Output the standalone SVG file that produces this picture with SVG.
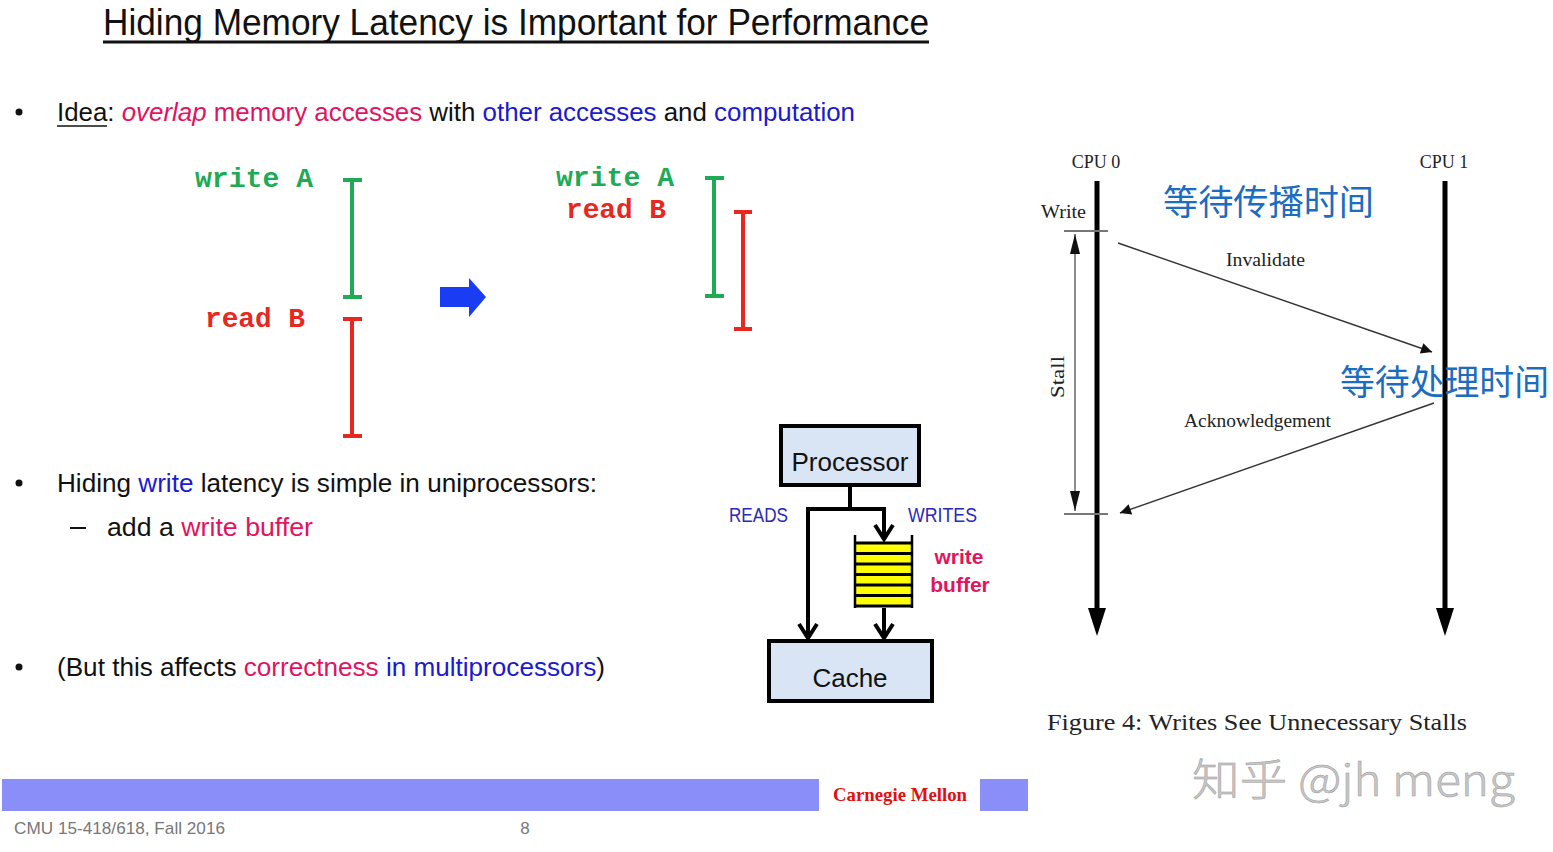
<svg xmlns="http://www.w3.org/2000/svg" width="1553" height="852" viewBox="0 0 1553 852">
<style>
.sans{font-family:"Liberation Sans","Noto Sans",sans-serif;}
.body{font-family:"Liberation Sans","Noto Sans",sans-serif;font-size:26px;fill:#111;}
.pink{fill:#e3135e;}
.blue{fill:#1a1ad0;}
.mono{font-family:"Liberation Mono","DejaVu Sans Mono",monospace;font-size:28px;font-weight:bold;}
.green{fill:#1faa55;}
.red{fill:#e8281e;}
.gbar{stroke:#1faa55;stroke-width:4;fill:none;}
.rbar{stroke:#e8281e;stroke-width:4;fill:none;}
.box{fill:#d9e4f4;stroke:#000;stroke-width:4;}
.wire{stroke:#000;stroke-width:4;fill:none;}
.serif{font-family:"Liberation Serif","DejaVu Serif",serif;fill:#222;}
.cjk{font-family:"Noto Sans CJK SC","Noto Sans",sans-serif;font-size:35px;fill:#1c6cc0;}
.thin{stroke:#333;stroke-width:1.4;fill:none;}
.tick{stroke:#777;stroke-width:2;fill:none;}
.life{stroke:#000;stroke-width:5;fill:none;}
</style>
<defs>
<marker id="tri" viewBox="0 0 10 10" refX="10" refY="5" markerWidth="20" markerHeight="11" markerUnits="userSpaceOnUse" orient="auto"><path d="M0,0 L10,5 L0,10 z" fill="#111"/></marker>
</defs>
<rect width="1553" height="852" fill="#fff"/>

<g id="title">
<text class="sans" x="103" y="35" font-size="36" fill="#111" textLength="826" lengthAdjust="spacingAndGlyphs">Hiding Memory Latency is Important for Performance</text>
<line x1="103" y1="42" x2="929" y2="42" stroke="#111" stroke-width="3"/>
</g>

<g id="bullet1">
<circle cx="19" cy="112" r="3.5" fill="#111"/>
<text class="body" x="57" y="121" textLength="798" lengthAdjust="spacingAndGlyphs">Idea: <tspan class="pink" font-style="italic">overlap</tspan><tspan class="pink"> memory accesses</tspan> with <tspan class="blue">other accesses</tspan> and <tspan class="blue">computation</tspan></text>
<line x1="57" y1="126" x2="107" y2="126" stroke="#111" stroke-width="1.5"/>
</g>

<g id="serial">
<text class="mono green" x="195" y="187" textLength="118" lengthAdjust="spacingAndGlyphs">write A</text>
<path class="gbar" d="M343,180 H362 M352,180 V297 M343,297 H362"/>
<text class="mono red" x="205" y="327" textLength="100" lengthAdjust="spacingAndGlyphs">read B</text>
<path class="rbar" d="M343,319 H362 M352,319 V436 M343,436 H362"/>
</g>

<g id="bigarrow">
<polygon points="440,287 469,287 469,278 486,297 469,317 469,307 440,307" fill="#1a3cf2"/>
</g>

<g id="overlapped">
<text class="mono green" x="556" y="186" textLength="118" lengthAdjust="spacingAndGlyphs">write A</text>
<text class="mono red" x="566" y="218" textLength="100" lengthAdjust="spacingAndGlyphs">read B</text>
<path class="gbar" d="M705,178 H724 M714,178 V296 M705,296 H724"/>
<path class="rbar" d="M734,212 H752 M743,212 V329 M734,329 H752"/>
</g>

<g id="bullet2">
<circle cx="19" cy="483" r="3.5" fill="#111"/>
<text class="body" x="57" y="492" textLength="540" lengthAdjust="spacingAndGlyphs">Hiding <tspan class="blue">write</tspan> latency is simple in uniprocessors:</text>
<line x1="70" y1="528" x2="86" y2="528" stroke="#111" stroke-width="2"/>
<text class="body" x="107" y="536" textLength="206" lengthAdjust="spacingAndGlyphs">add a <tspan class="pink">write buffer</tspan></text>
</g>

<g id="bullet3">
<circle cx="19" cy="667" r="3.5" fill="#111"/>
<text class="body" x="57" y="676" textLength="548" lengthAdjust="spacingAndGlyphs">(But this affects <tspan class="pink">correctness</tspan> <tspan class="blue">in multiprocessors</tspan>)</text>
</g>

<g id="processor">
<rect class="box" x="781" y="426" width="138" height="59"/>
<text class="sans" x="850" y="471" font-size="26" fill="#111" text-anchor="middle">Processor</text>
</g>

<g id="cache">
<rect class="box" x="769" y="641" width="163" height="60"/>
<text class="sans" x="850" y="687" font-size="26" fill="#111" text-anchor="middle">Cache</text>
</g>

<g id="writebuffer">
<rect x="855" y="542" width="57" height="65" fill="#ffff00"/>
<path d="M855,535 V608 M912,535 V608" stroke="#000" stroke-width="2.5"/>
<path d="M855,543 H912 M855,553.5 H912 M855,564 H912 M855,574.5 H912 M855,585 H912 M855,595.5 H912 M855,606 H912" stroke="#000" stroke-width="3"/>
<text class="sans" x="959" y="564" font-size="21" font-weight="bold" fill="#e3135e" text-anchor="middle">write</text>
<text class="sans" x="960" y="592" font-size="21" font-weight="bold" fill="#e3135e" text-anchor="middle">buffer</text>
</g>

<g id="labels">
<text class="sans" x="729" y="522" font-size="20" fill="#2a2ab8" textLength="59" lengthAdjust="spacingAndGlyphs">READS</text>
<text class="sans" x="908" y="522" font-size="20" fill="#2a2ab8" textLength="69" lengthAdjust="spacingAndGlyphs">WRITES</text>
</g>

<g id="connectors">
<path class="wire" d="M850,485 V509 M806,509 H886 M808,509 V637 M884,509 V537 M884,608 V637"/>
<path class="wire" d="M799,624 L808,638 L817,624"/>
<path class="wire" d="M875,525 L884,539 L893,525"/>
<path class="wire" d="M875,624 L884,638 L893,624"/>

<line class="life" x1="1097" y1="181" x2="1097" y2="612"/>
<polygon points="1088,608 1106,608 1097,636" fill="#000"/>
<line class="life" x1="1445" y1="181" x2="1445" y2="612"/>
<polygon points="1436,608 1454,608 1445,636" fill="#000"/>

<line class="tick" x1="1064" y1="231" x2="1108" y2="231"/>
<line class="tick" x1="1064" y1="514" x2="1108" y2="514"/>
<line x1="1075" y1="234" x2="1075" y2="511" stroke="#666" stroke-width="1.5"/>
<polygon points="1075,234 1070,254 1080,254" fill="#111"/>
<polygon points="1075,511 1070,491 1080,491" fill="#111"/>

<line class="thin" x1="1118" y1="243" x2="1432" y2="352" marker-end="url(#tri)"/>
<line class="thin" x1="1434" y1="403" x2="1120" y2="513" marker-end="url(#tri)"/>
</g>

<g id="timeline-text">
<text class="serif" x="1096" y="168" font-size="18" text-anchor="middle">CPU 0</text>
<text class="serif" x="1444" y="168" font-size="18" text-anchor="middle">CPU 1</text>
<text class="serif" x="1041" y="218" font-size="18" textLength="45" lengthAdjust="spacingAndGlyphs">Write</text>
<text class="serif" font-size="19" text-anchor="middle" transform="translate(1064,377) rotate(-90)" textLength="42" lengthAdjust="spacingAndGlyphs">Stall</text>
<text class="serif" x="1226" y="266" font-size="18" textLength="79" lengthAdjust="spacingAndGlyphs">Invalidate</text>
<text class="serif" x="1184" y="427" font-size="18" textLength="147" lengthAdjust="spacingAndGlyphs">Acknowledgement</text>
<text class="cjk" x="1163" y="215" textLength="211" lengthAdjust="spacingAndGlyphs">等待传播时间</text>
<text class="cjk" x="1340" y="395" textLength="209" lengthAdjust="spacingAndGlyphs">等待处理时间</text>
<text class="serif" x="1047" y="730" font-size="24" fill="#333" textLength="420" lengthAdjust="spacingAndGlyphs">Figure 4: Writes See Unnecessary Stalls</text>
</g>

<g id="footer">
<rect x="2" y="779" width="817" height="32" fill="#8a8ef8"/>
<rect x="980" y="779" width="48" height="32" fill="#8a8ef8"/>
<text x="833" y="801" font-family="Liberation Serif,serif" font-size="19" font-weight="bold" fill="#e01010" textLength="134" lengthAdjust="spacingAndGlyphs">Carnegie Mellon</text>
<text class="sans" x="14" y="834" font-size="17" fill="#777" textLength="211" lengthAdjust="spacingAndGlyphs">CMU 15-418/618, Fall 2016</text>
<text class="sans" x="525" y="834" font-size="17" fill="#777" text-anchor="middle">8</text>
</g>

<g id="watermark">
<text x="1192" y="796" font-family="Noto Sans CJK SC,Noto Sans,sans-serif" font-size="44" font-weight="300" fill="#c8c8c8" stroke="#999" stroke-width="0.5" textLength="323" lengthAdjust="spacingAndGlyphs">知乎 @jh meng</text>
</g>
</svg>
